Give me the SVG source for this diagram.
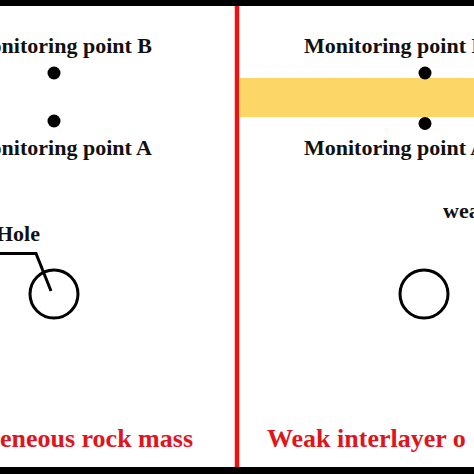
<svg xmlns="http://www.w3.org/2000/svg" width="474" height="474" viewBox="0 0 474 474">
<defs>
<style>
text{font-family:'Liberation Serif','DejaVu Serif',serif;font-weight:700}
.lbl{font-size:22px;fill:#111}
.ttl{font-size:26px;fill:#e0141c}
.dot{fill:#000}
.hole{fill:#fff;stroke:#000;stroke-width:3}
</style>
</defs>
<rect x="0" y="0" width="474" height="474" fill="#fff"/>
<rect x="240" y="78" width="234" height="39" fill="#fcd667"/>
<rect x="0" y="0" width="474" height="6" fill="#000"/>
<rect x="0" y="467" width="474" height="7" fill="#000"/>
<line x1="237" y1="6" x2="237" y2="467" stroke="#ee1111" stroke-width="4.5"/>
<g id="left-panel">
<text class="lbl" x="152" y="53" text-anchor="end" font-family="Liberation Serif, serif">Monitoring point B</text>
<circle class="dot" cx="54" cy="73" r="6.5"/>
<circle class="dot" cx="54" cy="121" r="6.5"/>
<text class="lbl" x="152" y="155" text-anchor="end">Monitoring point A</text>
<text class="lbl" x="40" y="241" text-anchor="end">Hole</text>
<circle id="hole-left" class="hole" cx="54" cy="294" r="24"/>
<text class="ttl" x="193" y="447" text-anchor="end">Homogeneous rock mass</text>
</g>
<g id="right-panel">
<text class="lbl" x="304" y="53">Monitoring point B</text>
<circle class="dot" cx="425" cy="73" r="6.5"/>
<circle class="dot" cx="425" cy="123.5" r="6.5"/>
<text class="lbl" x="304" y="155">Monitoring point A</text>
<text class="lbl" x="443" y="218">weak interlayer</text>
<circle id="hole-right" class="hole" cx="424" cy="294" r="24"/>
<text class="ttl" x="267" y="447">Weak interlayer o</text>
</g>
<g id="connectors">
<polyline points="0,253.5 36,253.5 51,291" fill="none" stroke="#000" stroke-width="3"/>
</g>
</svg>
